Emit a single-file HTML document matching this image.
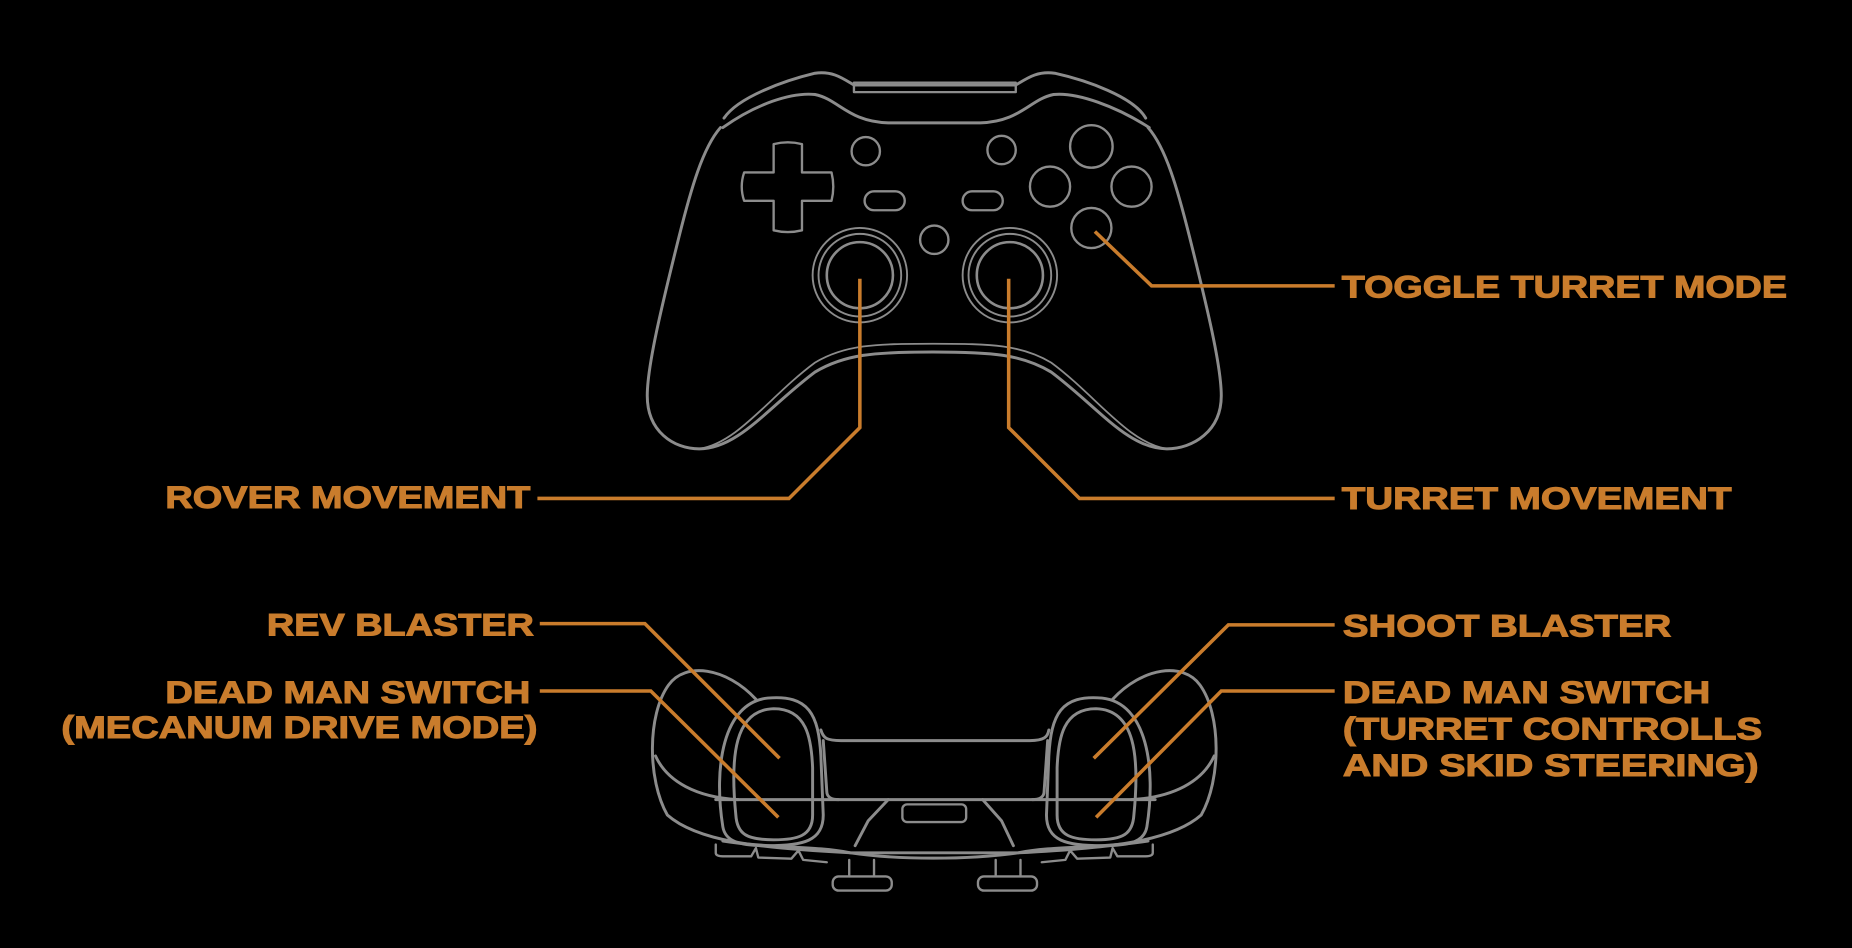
<!DOCTYPE html>
<html><head><meta charset="utf-8"><style>
html,body{margin:0;padding:0;background:#000;width:1852px;height:948px;overflow:hidden}
svg{display:block}
text{font-family:"Liberation Sans",sans-serif;font-weight:bold;font-size:27px;fill:#c97c2c;stroke:#c97c2c;stroke-width:0.9}
</style></head><body>
<svg width="1852" height="948" viewBox="0 0 1568 802.6" preserveAspectRatio="none">
<rect width="1568" height="803" fill="#000"/>
<g fill="none" stroke="#8c8c8c" stroke-width="2.5" stroke-linejoin="round" stroke-linecap="round">
<path d="M613,100 C625,82 665,68 690,62 C705,60 713,66 723,72 L860,72 C870,66 878,60 893,62 C920,68 960,82 970,100"/>
<rect x="723" y="70" width="137" height="8" stroke-width="2"/>
<path d="M612,108 C640,88 670,78 690,80 C710,84 718,103 752,104 L830,104 C864,103 872,84 892,80 C912,78 945,90 973,108"/>
<path d="M610,108 C595,125 585,160 575,200 C560,260 548,310 548,335 C548,365 570,380 592,380 C625,380 650,345 690,315 C715,300 740,298 790,298 C840,298 865,300 890,315 C930,345 955,380 988,380 C1010,380 1034,365 1034,335 C1034,310 1022,260 1007,200 C997,160 987,125 972,108"/>
<path d="M592,380 C625,375 652,335 690,307 C715,292 740,291 790,291 C840,291 865,292 890,307 C928,335 955,375 988,380" stroke-width="1.5"/>
<path d="M655,122 Q667,119 679,122 L679,146 L704,146 Q707,158 704,170 L679,170 L679,195 Q667,198 655,195 L655,170 L630,170 Q626,158 630,146 L655,146 Z" stroke-width="2"/>
<circle cx="733" cy="128" r="12" stroke-width="2"/>
<circle cx="848" cy="127" r="12" stroke-width="2"/>
<rect x="732" y="162" width="34" height="16" rx="8" stroke-width="2"/>
<rect x="815" y="162" width="34" height="16" rx="8" stroke-width="2"/>
<circle cx="791" cy="203" r="12" stroke-width="2"/>
<circle cx="924" cy="124" r="18" stroke-width="2"/>
<circle cx="889" cy="158" r="17" stroke-width="2"/>
<circle cx="958" cy="158" r="17" stroke-width="2"/>
<circle cx="924" cy="193" r="17" stroke-width="2"/>
<g stroke-width="1.6">
<circle cx="728" cy="233" r="40"/><circle cx="728" cy="233" r="35"/><circle cx="728" cy="233" r="28" stroke-width="2.2"/>
<circle cx="855" cy="233" r="40"/><circle cx="855" cy="233" r="35"/><circle cx="855" cy="233" r="28" stroke-width="2.2"/>
</g>
<path d="M640,592 C615,565 580,560 566,580 C548,605 548,660 565,690 C590,712 640,718 720,722 L862,722 C942,718 992,712 1017,690 C1034,660 1034,605 1016,580 C1002,560 967,565 942,592"/>
<path d="M555,640 C565,662 590,675 625,677"/>
<path d="M1028,640 C1018,662 993,675 958,677"/>
<path d="M612,700 C604,650 612,595 650,591 C685,588 693,605 695,640 L697,690 C697,712 680,716 650,716 C625,716 614,712 612,700 Z"/>
<path d="M623,690 C618,640 622,601 655,600 C683,600 687,625 688,650 L688,690 C688,708 675,711 655,711 C632,711 624,706 623,690 Z"/>
<path d="M971,700 C979,650 971,595 933,591 C898,588 890,605 888,640 L886,690 C886,712 903,716 933,716 C958,716 969,712 971,700 Z"/>
<path d="M960,690 C965,640 961,601 928,600 C900,600 896,625 895,650 L895,690 C895,708 908,711 928,711 C951,711 959,706 960,690 Z"/>
<path d="M695,618 C697,625 700,627 712,627 L872,627 C884,627 887,624 888,618"/>
<path d="M697,627 L700,670 C700,674 703,677 710,677 M887,627 L884,670 C884,674 881,677 874,677"/>
<path d="M606,677 L978,677"/>
<rect x="764" y="681" width="54" height="15" rx="4" stroke-width="2"/>
<path d="M752,677 L735,695 L724,716 M832,677 L848,695 L858,716"/>
<path d="M612,712 C650,718 690,716 720,722 C760,728 820,728 862,722 C892,716 935,718 972,712"/>
<path d="M606,715 L606,722 Q606,725 612,725 L636,725 L640,718 L642,726 L670,727 L676,720 L680,728 L700,730 M976,715 L976,722 Q976,725 970,725 L946,725 L942,718 L940,726 L912,727 L906,720 L902,728 L882,730" stroke-width="2"/>
<path d="M719,728 L719,742 M740,728 L740,742 M843,728 L843,742 M864,728 L864,742" stroke-width="2"/>
<rect x="705" y="742" width="50" height="12" rx="5" stroke-width="2"/>
<rect x="828" y="742" width="50" height="12" rx="5" stroke-width="2"/>
</g>
<g fill="none" stroke="#c97c2c" stroke-width="3">
<path d="M927,196 L975,242 L1130,242"/>
<path d="M728,236 L728,362 L668,422 L455,422"/>
<path d="M854,236 L854,362 L914,422 L1130,422"/>
<path d="M457,528 L546,528 L660,642"/>
<path d="M457,585 L551,585 L659,692"/>
<path d="M1130,529 L1040,529 L926,642"/>
<path d="M1130,585 L1034,585 L928,692"/>
</g>
<text x="1136" y="252" textLength="377" lengthAdjust="spacingAndGlyphs">TOGGLE TURRET MODE</text>
<text x="140" y="430" textLength="309" lengthAdjust="spacingAndGlyphs">ROVER MOVEMENT</text>
<text x="1136" y="431" textLength="330" lengthAdjust="spacingAndGlyphs">TURRET MOVEMENT</text>
<text x="226" y="538" textLength="226" lengthAdjust="spacingAndGlyphs">REV BLASTER</text>
<text x="140" y="595" textLength="309" lengthAdjust="spacingAndGlyphs">DEAD MAN SWITCH</text>
<text x="52" y="625" textLength="403" lengthAdjust="spacingAndGlyphs">(MECANUM DRIVE MODE)</text>
<text x="1137" y="539" textLength="278" lengthAdjust="spacingAndGlyphs">SHOOT BLASTER</text>
<text x="1137" y="595" textLength="311" lengthAdjust="spacingAndGlyphs">DEAD MAN SWITCH</text>
<text x="1137" y="626" textLength="355" lengthAdjust="spacingAndGlyphs">(TURRET CONTROLLS</text>
<text x="1137" y="657" textLength="352" lengthAdjust="spacingAndGlyphs">AND SKID STEERING)</text>
</svg>
</body></html>
